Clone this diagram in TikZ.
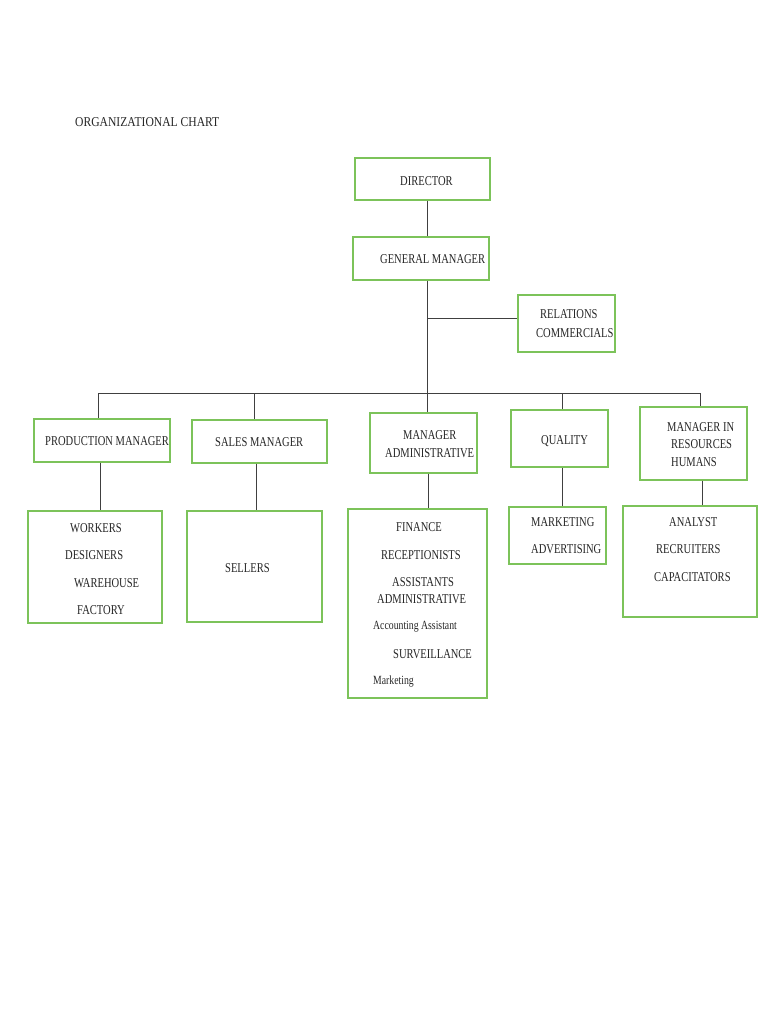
\documentclass[tikz,border=0pt]{standalone}
\usepackage{fontspec}
\setmainfont[FakeStretch=0.78]{Liberation Serif}
\newfontfamily\titlefont[FakeStretch=0.86]{Liberation Serif}
\definecolor{boxgreen}{HTML}{7CC35A}

\tikzstyle{orgbox}=[draw=boxgreen,
                    line width=1.1pt,
                    inner sep=0pt]
\tikzstyle{orgline}=[draw=black!75, line width=0.8pt]
\tikzstyle{orgtext}=[inner sep=0pt,
                     anchor=west,
                     text=black!85,
                     font=\fontsize{13.5}{15}\selectfont]
\tikzstyle{orgsmall}=[orgtext, font=\fontsize{12.5}{14}\selectfont]

\begin{document}
\begin{tikzpicture}[x=1pt,y=-1pt]
    \useasboundingbox[fill=white] (0,0) rectangle (768,1024);
    \node [orgtext, font=\titlefont\fontsize{13.5}{15}\selectfont] (title) at (75,122) {ORGANIZATIONAL CHART};

    % boxes
    \node [orgbox, minimum width=135pt, minimum height=42pt] (director) at (422.5,179) {};
    \node [orgbox, minimum width=136pt, minimum height=43pt] (genmgr) at (421,258.5) {};
    \node [orgbox, minimum width=97pt, minimum height=57pt] (relcom) at (566.5,323.5) {};
    \node [orgbox, minimum width=136pt, minimum height=43pt] (prodmgr) at (102,440.5) {};
    \node [orgbox, minimum width=135pt, minimum height=43pt] (salesmgr) at (259.5,441.5) {};
    \node [orgbox, minimum width=107pt, minimum height=60pt] (adminmgr) at (423.5,443) {};
    \node [orgbox, minimum width=97pt, minimum height=57pt] (quality) at (559.5,438.5) {};
    \node [orgbox, minimum width=107pt, minimum height=73pt] (hrmgr) at (693.5,443.5) {};
    \node [orgbox, minimum width=134pt, minimum height=112pt] (prodteam) at (95,567) {};
    \node [orgbox, minimum width=135pt, minimum height=111pt] (salesteam) at (254.5,566.5) {};
    \node [orgbox, minimum width=139pt, minimum height=189pt] (adminteam) at (417.5,603.5) {};
    \node [orgbox, minimum width=97pt, minimum height=57pt] (qualteam) at (557.5,535.5) {};
    \node [orgbox, minimum width=134pt, minimum height=111pt] (hrteam) at (690,561.5) {};

    % connectors
    \coordinate (spine) at (427,318);
    \coordinate (busL) at (98,393);
    \coordinate (busR) at (700,393);
    \draw [orgline] (director.south -| spine) -- (genmgr.north -| spine);
    \draw [orgline] (genmgr.south -| spine) -- (spine |- busL);
    \draw [orgline] (spine) -- (spine -| relcom.west);
    \draw [orgline] (busL) -- (busR);
    \foreach \x/\n in {98/prodmgr,254/salesmgr,427/adminmgr,562/quality,700/hrmgr}
        {\coordinate (top\n) at (\x,393);
         \draw [orgline] (top\n) -- (top\n |- \n.north);}
    \foreach \x/\a/\b in {100/prodmgr/prodteam,256/salesmgr/salesteam,428/adminmgr/adminteam,562/quality/qualteam,702/hrmgr/hrteam}
        {\coordinate (mid\a) at (\x,490);
         \draw [orgline] (mid\a |- \a.south) -- (mid\a |- \b.north);}

    % texts
    \node [orgtext] (tdirector) at (400,181) {DIRECTOR};
    \node [orgtext] (tgenmgr) at (380,259) {GENERAL MANAGER};
    \node [orgtext] (trel) at (540,314) {RELATIONS};
    \node [orgtext] (tcom) at (536,333) {COMMERCIALS};
    \node [orgtext] (tprodmgr) at (45,441) {PRODUCTION MANAGER};
    \node [orgtext] (tsalesmgr) at (215,442) {SALES MANAGER};
    \node [orgtext] (tadmin1) at (403,435) {MANAGER};
    \node [orgtext] (tadmin2) at (385,453) {ADMINISTRATIVE};
    \node [orgtext] (tquality) at (541,441) {QUALITY};
    \node [orgtext] (thr1) at (667,427) {MANAGER IN};
    \node [orgtext] (thr2) at (671,444) {RESOURCES};
    \node [orgtext] (thr3) at (671,462) {HUMANS};
    \node [orgtext] (tworkers) at (70,528) {WORKERS};
    \node [orgtext] (tdesigners) at (65,555) {DESIGNERS};
    \node [orgtext] (twarehouse) at (74,583) {WAREHOUSE};
    \node [orgtext] (tfactory) at (77,610) {FACTORY};
    \node [orgtext] (tsellers) at (225,568) {SELLERS};
    \node [orgtext] (tfinance) at (396,527) {FINANCE};
    \node [orgtext] (trecept) at (381,555) {RECEPTIONISTS};
    \node [orgtext] (tassist1) at (392,582) {ASSISTANTS};
    \node [orgtext] (tassist2) at (377,599) {ADMINISTRATIVE};
    \node [orgsmall] (taccount) at (373,627) {Accounting Assistant};
    \node [orgtext] (tsurveil) at (393,654) {SURVEILLANCE};
    \node [orgsmall] (tmarket) at (373,682) {Marketing};
    \node [orgtext] (tmarketing) at (531,522) {MARKETING};
    \node [orgtext] (tadvert) at (531,549) {ADVERTISING};
    \node [orgtext] (tanalyst) at (669,522) {ANALYST};
    \node [orgtext] (trecruit) at (656,549) {RECRUITERS};
    \node [orgtext] (tcapacit) at (654,577) {CAPACITATORS};
\end{tikzpicture}
\end{document}
